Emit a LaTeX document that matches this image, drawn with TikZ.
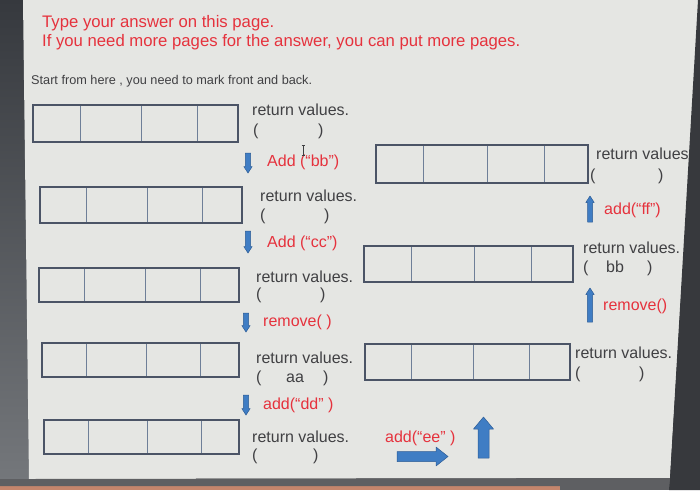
\documentclass[tikz,border=0pt]{standalone}
\usepackage{fontspec}
\setmainfont{Liberation Sans}
\definecolor{pagebg}{HTML}{E5E6E3}
\definecolor{redtxt}{HTML}{E5323D}
\definecolor{graytxt}{HTML}{404043}
\definecolor{boxline}{HTML}{4B5466}
\definecolor{divline}{HTML}{6E7F98}
\definecolor{arrowfill}{HTML}{3F7DC4}
\definecolor{arrowedge}{HTML}{2D5C95}
\definecolor{darkL}{HTML}{36393E}
\definecolor{lightL}{HTML}{74777B}
\definecolor{darkR}{HTML}{37393D}
\definecolor{bottomgray}{HTML}{5E5F62}
\definecolor{salmon}{HTML}{C4856C}
\tikzset{
  rv/.style={anchor=base west, inner sep=0pt, text=graytxt, font=\fontsize{16}{18}\selectfont},
  lbl/.style={anchor=base west, inner sep=0pt, text=redtxt, font=\fontsize{16}{18}\selectfont},
  title/.style={anchor=base west, inner sep=0pt, text=redtxt, font=\fontsize{16.7}{19}\selectfont},
  qboxline/.style={draw=boxline, line width=1.5pt},
  qdivline/.style={draw=divline, line width=0.9pt},
  blockarr/.style={fill=arrowfill, draw=arrowedge, line width=0.5pt, line join=round}
}
\newcommand\qarrdown[6]{%
  \filldraw[blockarr] ({#1-#4},#2) -- ({#1+#4},#2) -- ({#1+#4},{#3-#6}) -- ({#1+#5},{#3-#6}) -- (#1,#3) -- ({#1-#5},{#3-#6}) -- ({#1-#4},{#3-#6}) -- cycle;}
\newcommand\qarrup[6]{%
  \filldraw[blockarr] ({#1-#4},#3) -- ({#1+#4},#3) -- ({#1+#4},{#2+#6}) -- ({#1+#5},{#2+#6}) -- (#1,#2) -- ({#1-#5},{#2+#6}) -- ({#1-#4},{#2+#6}) -- cycle;}
\newcommand\qarrright[6]{%
  \filldraw[blockarr] (#2,{#1-#4}) -- ({#3-#6},{#1-#4}) -- ({#3-#6},{#1-#5}) -- (#3,#1) -- ({#3-#6},{#1+#5}) -- ({#3-#6},{#1+#4}) -- (#2,{#1+#4}) -- cycle;}
\newcommand\qcells[7]{%
  \draw[qdivline] (#5,#2) -- (#5,#4) (#6,#2) -- (#6,#4) (#7,#2) -- (#7,#4);
  \draw[qboxline] (#1,#2) rectangle (#3,#4);}
\begin{document}
\begin{tikzpicture}[x=1pt,y=-1pt]
\useasboundingbox (0,0) rectangle (700,490);
% background (photo surroundings)
\fill[bottomgray] (0,0) rectangle (700,490);
\shade[top color=darkL, bottom color=lightL] (0,0) rectangle (40,480);
\fill[salmon] (0,486) rectangle (560,490);
% page
\fill[pagebg] (23,0) -- (699,0) -- (670,478) -- (29,479) -- cycle;

% titles
\node[title] (t1) at (42,27) {Type your answer on this page.};
\node[title] (t2) at (42,46) {If you need more pages for the answer, you can put more pages.};
\node[anchor=base west, inner sep=0pt, text=graytxt, font=\fontsize{12.7}{14}\selectfont] (start) at (31,84) {Start from here , you need to mark front and back.};

% left column
\qcells{33}{105}{238}{142}{80}{141}{197}
\node[rv] (rv1) at (252,115) {return values.};
\node[rv] (o1) at (253,135) {(};
\node[rv] (c1) at (318,135) {)};
\qarrdown{248}{153}{173}{2.6}{4.2}{6.5}
\node[lbl] (l1) at (267,166) {Add (“bb”)};
\draw[graytxt, line width=0.5pt] (301.5,145) -- (304.5,145) (303,145) -- (303,155) (301.5,155) -- (304.5,155);

\qcells{40}{187}{242}{223}{86}{147}{202}
\node[rv] (rv2) at (260,201) {return values.};
\node[rv] (o2) at (260,220) {(};
\node[rv] (c2) at (324,220) {)};
\qarrdown{248}{231}{253}{2.6}{4.2}{6.5}
\node[lbl] (l2) at (267,247) {Add (“cc”)};

\qcells{39}{268}{239}{302}{84}{145}{200}
\node[rv] (rv3) at (256,282) {return values.};
\node[rv] (o3) at (256,299) {(};
\node[rv] (c3) at (320,299) {)};
\qarrdown{246}{313}{332}{2.6}{4.2}{6.5}
\node[lbl] (l3) at (263,326) {remove( )};

\qcells{42}{343}{239}{377}{86}{146}{200}
\node[rv] (rv4) at (256,363) {return values.};
\node[rv] (o4) at (256,382) {(};
\node[rv] (v4) at (286,382) {aa};
\node[rv] (c4) at (323,382) {)};
\qarrdown{246}{395}{415}{2.6}{4.2}{6.5}
\node[lbl] (l4) at (263,409) {add(“dd” )};

\qcells{44}{420}{239}{454}{88}{147}{201}
\node[rv] (rv5) at (252,442) {return values.};
\node[rv] (o5) at (252,460) {(};
\node[rv] (c5) at (313,460) {)};

% right column
\qcells{376}{145}{588}{183}{423}{487}{544}
\node[rv] (rr1) at (596,159) {return values.};
\node[rv] (ro1) at (590,180) {(};
\node[rv] (rc1) at (658,180) {)};
\qarrup{590}{196}{222}{2.5}{4.2}{6.5}
\node[lbl] (rl1) at (604,214) {add(“ff”)};

\qcells{364}{246}{573}{282}{411}{474}{531}
\node[rv] (rr2) at (583,253) {return values.};
\node[rv] (ro2) at (583,272) {(};
\node[rv] (rv2b) at (606,272) {bb};
\node[rv] (rc2) at (647,272) {)};
\qarrup{590}{288}{322}{2.6}{4.2}{6.5}
\node[lbl] (rl2) at (603,310) {remove()};

\qcells{365}{344}{570}{380}{411}{473}{529}
\node[rv] (rr3) at (575,358) {return values.};
\node[rv] (ro3) at (575,378) {(};
\node[rv] (rc3) at (639,378) {)};

\node[lbl] (rl3) at (385,442) {add(“ee” )};
\qarrright{456.5}{397}{448}{5}{9.5}{12}
\qarrup{483.5}{417}{458}{5.5}{10}{12}

% right edge of the screen over the page
\fill[darkR] (698,0) -- (700,0) -- (700,490) -- (669,490) -- (670,478) -- cycle;
\fill[bottomgray] (0,479) -- (29,479) -- (670,478) -- (669,486) -- (0,486) -- cycle;
\end{tikzpicture}
\end{document}
